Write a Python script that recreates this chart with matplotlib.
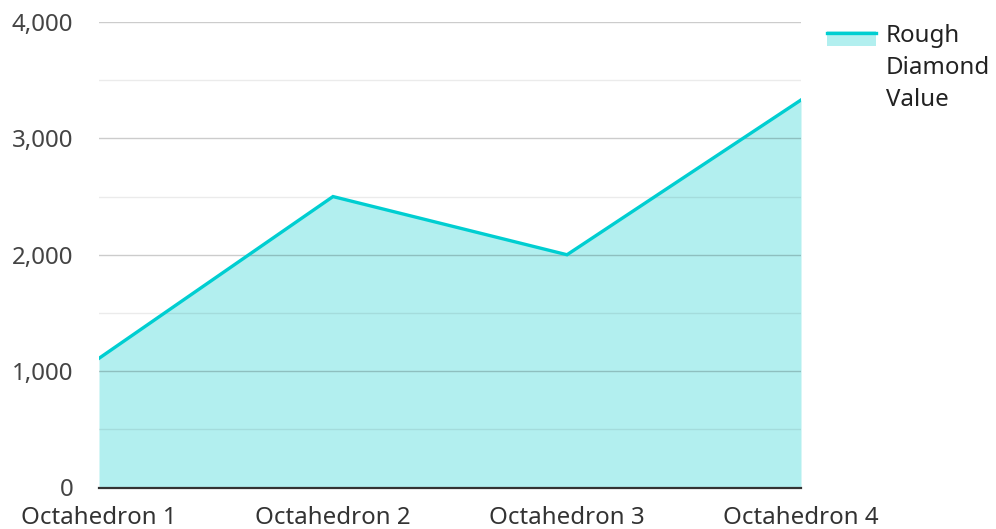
import matplotlib
matplotlib.use("Agg")
import matplotlib.pyplot as plt
from matplotlib.patches import Rectangle
from matplotlib.lines import Line2D
from matplotlib.ticker import FuncFormatter, MultipleLocator

categories = ["Octahedron 1", "Octahedron 2", "Octahedron 3", "Octahedron 4"]
values = [1110, 2500, 2000, 3330]
series_name = "Rough\nDiamond\nValue"
y_ticks = [0, 1000, 2000, 3000, 4000]

plt.rcParams['font.family'] = ['Noto Sans', 'DejaVu Sans']

line_color = "#00CED1"
fill_color = "#B2EFEF"
fs = 17.3

fig = plt.figure(figsize=(9.96, 5.29), dpi=100)
W, H = 996, 529
ax = fig.add_axes([99 / W, 1 - 487.5 / H, (801 - 99) / W, (487.5 - 22) / H])

x = list(range(len(categories)))
ax.fill_between(x, values, 0, color=fill_color, lw=0, zorder=1)
ax.plot(x, values, color=line_color, lw=2.4, zorder=4, solid_joinstyle='miter')

ax.set_xlim(0, len(categories) - 1)
ax.set_ylim(0, 4000)
ax.set_yticks(y_ticks)
ax.yaxis.set_minor_locator(MultipleLocator(500))
ax.yaxis.set_major_formatter(FuncFormatter(lambda v, p: f"{int(v):,}"))
ax.set_xticks(x)
ax.set_xticklabels(categories)

ax.grid(axis='y', which='major', color='black', alpha=0.2, lw=1.0, zorder=2)
ax.grid(axis='y', which='minor', color='black', alpha=0.08, lw=1.0, zorder=2)
ax.set_axisbelow(False)
for s in ['top', 'right', 'left']:
    ax.spines[s].set_visible(False)
ax.spines['bottom'].set_color('#333333')
ax.spines['bottom'].set_linewidth(1.6)
ax.spines['bottom'].set_zorder(5)

ax.tick_params(axis='y', which='both', length=0, pad=18.5, labelsize=fs, labelcolor='#444444')
ax.tick_params(axis='x', which='both', length=0, pad=13.3, labelsize=fs, labelcolor='#333333')

# legend drawn manually in pixel coordinates
def fx(px):
    return px / W

def fy(py):
    return 1 - py / H

fig.add_artist(Rectangle((fx(827), fy(45.5)), fx(876) - fx(827), fy(31) - fy(45.5),
                         transform=fig.transFigure, color=fill_color, lw=0))
fig.add_artist(Line2D([fx(827), fx(876)], [fy(32.6), fy(32.6)], transform=fig.transFigure,
                      color=line_color, lw=2.4))
fig.text(fx(886), fy(24), series_name, ha='left', va='top', fontsize=fs,
         color='#222222', linespacing=1.45)

fig.savefig("out.png", dpi=100)
